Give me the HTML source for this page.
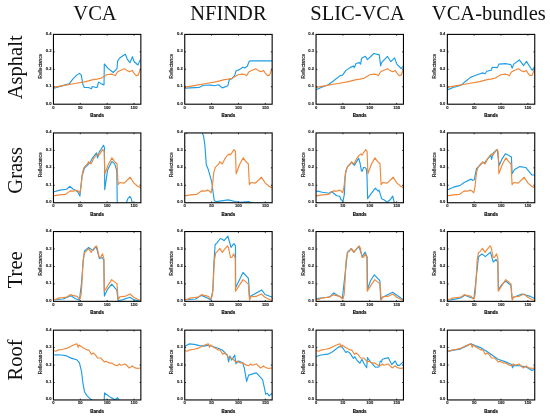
<!DOCTYPE html>
<html><head><meta charset="utf-8"><style>
html,body{margin:0;padding:0;background:#fff;}
body{width:550px;height:417px;overflow:hidden;}
svg{display:block;will-change:transform;}
.ti{font-family:"Liberation Serif",serif;font-size:20.5px;fill:#111;}
.t{font-family:"Liberation Sans",sans-serif;font-size:4.1px;font-weight:bold;fill:#1a1a1a;stroke:#1a1a1a;stroke-width:0.12px;}
.al{font-family:"Liberation Sans",sans-serif;font-size:4.5px;font-weight:bold;fill:#000;stroke:#000;stroke-width:0.15px;}
.ar{font-family:"Liberation Sans",sans-serif;font-size:4.65px;fill:#111;stroke:#111;stroke-width:0.15px;}
</style></head><body>
<svg width="550" height="417" viewBox="0 0 550 417">
<rect width="550" height="417" fill="#fff"/>
<text x="95.0" y="20.2" text-anchor="middle" class="ti">VCA</text>
<text x="228.4" y="20.2" text-anchor="middle" class="ti">NFINDR</text>
<text x="357.6" y="20.2" text-anchor="middle" class="ti">SLIC-VCA</text>
<text x="488.8" y="20.2" text-anchor="middle" class="ti">VCA-bundles</text>
<text transform="translate(21.6 67.3) rotate(-90)" text-anchor="middle" class="ti">Asphalt</text>
<text transform="translate(21.6 170.3) rotate(-90)" text-anchor="middle" class="ti">Grass</text>
<text transform="translate(21.6 269.8) rotate(-90)" text-anchor="middle" class="ti">Tree</text>
<text transform="translate(21.6 360.0) rotate(-90)" text-anchor="middle" class="ti">Roof</text>
<clipPath id="c00"><rect x="53.45" y="34.40" width="87.40" height="69.80"/></clipPath>
<g clip-path="url(#c00)">
<polyline fill="none" stroke="#1e9de6" stroke-width="1.15" stroke-linejoin="round" points="53.20,88.57 54.12,88.22 57.31,87.18 63.80,85.43 69.20,83.86 72.99,78.97 76.72,75.14 79.42,73.39 81.32,75.14 82.72,83.86 84.29,87.52 88.62,87.52 91.32,88.75 92.40,86.48 96.08,87.52 97.00,87.52 98.62,82.11 101.32,83.86 104.03,84.91 104.30,63.97 107.81,68.16 113.22,72.52 117.00,68.68 117.54,61.18 119.71,58.03 122.95,55.77 125.28,54.20 127.28,59.08 129.93,62.75 132.41,56.81 134.25,61.70 137.98,65.01 140.09,60.13 140.79,59.43"/>
<polyline fill="none" stroke="#f0883a" stroke-width="1.15" stroke-linejoin="round" points="53.20,87.35 64.01,85.43 74.83,83.51 85.64,81.59 93.21,79.67 97.00,79.15 101.00,78.28 104.19,76.36 106.62,74.79 111.38,74.09 113.76,74.79 115.38,75.66 117.38,71.99 120.19,70.42 124.57,68.68 126.57,70.42 129.82,71.65 132.20,70.42 133.76,72.87 136.20,75.66 138.20,75.14 139.82,70.77 140.79,69.90"/>
</g>
<path d="M80.30 104.20v-1.3M80.30 34.40v1.3M107.15 104.20v-1.3M107.15 34.40v1.3M134.00 104.20v-1.3M134.00 34.40v1.3M53.45 86.75h1.3M140.85 86.75h-1.3M53.45 69.30h1.3M140.85 69.30h-1.3M53.45 51.85h1.3M140.85 51.85h-1.3" stroke="#000" stroke-width="0.8" fill="none"/>
<rect x="53.45" y="34.40" width="87.40" height="69.80" fill="none" stroke="#000" stroke-width="1.1"/>
<text x="51.45" y="104.70" text-anchor="end" class="t">0.0</text><text x="51.45" y="87.25" text-anchor="end" class="t">0.1</text><text x="51.45" y="69.80" text-anchor="end" class="t">0.2</text><text x="51.45" y="52.35" text-anchor="end" class="t">0.3</text><text x="51.45" y="34.90" text-anchor="end" class="t">0.4</text><text x="53.45" y="108.50" text-anchor="middle" class="t">0</text><text x="80.30" y="108.50" text-anchor="middle" class="t">50</text><text x="107.15" y="108.50" text-anchor="middle" class="t">100</text><text x="134.00" y="108.50" text-anchor="middle" class="t">150</text>
<text x="97.15" y="116.95" text-anchor="middle" class="al">Bands</text>
<text transform="translate(42.15 66.20) rotate(-90)" text-anchor="middle" class="ar">Reflectance</text>
<clipPath id="c10"><rect x="184.75" y="34.40" width="87.40" height="69.80"/></clipPath>
<g clip-path="url(#c10)">
<polyline fill="none" stroke="#1e9de6" stroke-width="1.15" stroke-linejoin="round" points="184.50,88.22 190.12,87.87 199.32,87.35 203.32,85.26 210.51,85.08 214.51,85.78 218.62,84.73 222.19,87.87 223.70,87.35 227.81,85.78 229.32,79.67 231.92,78.62 234.89,75.14 235.92,70.95 239.81,69.38 242.68,67.28 244.79,67.98 247.28,66.24 249.01,61.70 250.30,60.83 272.09,60.83"/>
<polyline fill="none" stroke="#f0883a" stroke-width="1.15" stroke-linejoin="round" points="184.50,87.35 195.31,85.43 206.13,83.51 216.94,81.59 224.51,79.67 228.30,79.15 232.30,78.28 235.49,76.36 237.92,74.79 242.68,74.09 245.06,74.79 246.68,75.66 248.68,71.99 251.49,70.42 255.87,68.68 257.87,70.42 261.12,71.65 263.50,70.42 265.06,72.87 267.50,75.66 269.50,75.14 271.12,70.77 272.09,69.90"/>
</g>
<path d="M211.60 104.20v-1.3M211.60 34.40v1.3M238.45 104.20v-1.3M238.45 34.40v1.3M265.30 104.20v-1.3M265.30 34.40v1.3M184.75 86.75h1.3M272.15 86.75h-1.3M184.75 69.30h1.3M272.15 69.30h-1.3M184.75 51.85h1.3M272.15 51.85h-1.3" stroke="#000" stroke-width="0.8" fill="none"/>
<rect x="184.75" y="34.40" width="87.40" height="69.80" fill="none" stroke="#000" stroke-width="1.1"/>
<text x="182.75" y="104.70" text-anchor="end" class="t">0.0</text><text x="182.75" y="87.25" text-anchor="end" class="t">0.1</text><text x="182.75" y="69.80" text-anchor="end" class="t">0.2</text><text x="182.75" y="52.35" text-anchor="end" class="t">0.3</text><text x="182.75" y="34.90" text-anchor="end" class="t">0.4</text><text x="184.75" y="108.50" text-anchor="middle" class="t">0</text><text x="211.60" y="108.50" text-anchor="middle" class="t">50</text><text x="238.45" y="108.50" text-anchor="middle" class="t">100</text><text x="265.30" y="108.50" text-anchor="middle" class="t">150</text>
<text x="228.45" y="116.95" text-anchor="middle" class="al">Bands</text>
<text transform="translate(173.45 66.20) rotate(-90)" text-anchor="middle" class="ar">Reflectance</text>
<clipPath id="c20"><rect x="316.05" y="34.40" width="87.40" height="69.80"/></clipPath>
<g clip-path="url(#c20)">
<polyline fill="none" stroke="#1e9de6" stroke-width="1.15" stroke-linejoin="round" points="316.20,89.79 321.07,87.52 327.93,85.08 333.02,81.24 339.83,75.83 342.37,75.31 345.78,70.60 350.05,67.63 353.45,65.89 354.32,67.63 356.00,63.44 359.40,62.57 360.59,64.14 361.62,58.21 365.35,56.29 367.40,59.60 373.89,53.50 379.30,54.89 380.65,65.89 381.52,62.57 387.46,56.46 390.87,61.70 394.60,57.86 396.82,64.14 401.09,68.50 403.79,65.89"/>
<polyline fill="none" stroke="#f0883a" stroke-width="1.15" stroke-linejoin="round" points="316.20,87.35 327.01,85.43 337.83,83.51 348.64,81.59 356.21,79.67 360.00,79.15 364.00,78.28 367.19,76.36 369.62,74.79 374.38,74.09 376.76,74.79 378.38,75.66 380.38,71.99 383.19,70.42 387.57,68.68 389.57,70.42 392.82,71.65 395.20,70.42 396.76,72.87 399.20,75.66 401.20,75.14 402.82,70.77 403.79,69.90"/>
</g>
<path d="M342.90 104.20v-1.3M342.90 34.40v1.3M369.75 104.20v-1.3M369.75 34.40v1.3M396.60 104.20v-1.3M396.60 34.40v1.3M316.05 86.75h1.3M403.45 86.75h-1.3M316.05 69.30h1.3M403.45 69.30h-1.3M316.05 51.85h1.3M403.45 51.85h-1.3" stroke="#000" stroke-width="0.8" fill="none"/>
<rect x="316.05" y="34.40" width="87.40" height="69.80" fill="none" stroke="#000" stroke-width="1.1"/>
<text x="314.05" y="104.70" text-anchor="end" class="t">0.0</text><text x="314.05" y="87.25" text-anchor="end" class="t">0.1</text><text x="314.05" y="69.80" text-anchor="end" class="t">0.2</text><text x="314.05" y="52.35" text-anchor="end" class="t">0.3</text><text x="314.05" y="34.90" text-anchor="end" class="t">0.4</text><text x="316.05" y="108.50" text-anchor="middle" class="t">0</text><text x="342.90" y="108.50" text-anchor="middle" class="t">50</text><text x="369.75" y="108.50" text-anchor="middle" class="t">100</text><text x="396.60" y="108.50" text-anchor="middle" class="t">150</text>
<text x="359.75" y="116.95" text-anchor="middle" class="al">Bands</text>
<text transform="translate(304.75 66.20) rotate(-90)" text-anchor="middle" class="ar">Reflectance</text>
<clipPath id="c30"><rect x="447.35" y="34.40" width="87.40" height="69.80"/></clipPath>
<g clip-path="url(#c30)">
<polyline fill="none" stroke="#1e9de6" stroke-width="1.15" stroke-linejoin="round" points="447.20,89.79 448.01,89.62 453.09,87.52 461.26,85.08 464.77,81.94 470.40,77.40 474.51,75.83 478.56,74.26 482.62,72.87 485.16,73.74 486.73,71.30 491.32,70.25 492.29,67.28 497.38,67.63 498.89,64.14 505.70,63.62 510.84,64.66 512.19,68.16 513.71,64.14 519.33,59.95 523.60,65.54 526.47,61.35 532.09,70.25 534.79,66.41"/>
<polyline fill="none" stroke="#f0883a" stroke-width="1.15" stroke-linejoin="round" points="447.20,87.35 458.01,85.43 468.83,83.51 479.64,81.59 487.21,79.67 491.00,79.15 495.00,78.28 498.19,76.36 500.62,74.79 505.38,74.09 507.76,74.79 509.38,75.66 511.38,71.99 514.19,70.42 518.57,68.68 520.57,70.42 523.82,71.65 526.20,70.42 527.76,72.87 530.20,75.66 532.20,75.14 533.82,70.77 534.79,69.90"/>
</g>
<path d="M474.20 104.20v-1.3M474.20 34.40v1.3M501.05 104.20v-1.3M501.05 34.40v1.3M527.90 104.20v-1.3M527.90 34.40v1.3M447.35 86.75h1.3M534.75 86.75h-1.3M447.35 69.30h1.3M534.75 69.30h-1.3M447.35 51.85h1.3M534.75 51.85h-1.3" stroke="#000" stroke-width="0.8" fill="none"/>
<rect x="447.35" y="34.40" width="87.40" height="69.80" fill="none" stroke="#000" stroke-width="1.1"/>
<text x="445.35" y="104.70" text-anchor="end" class="t">0.0</text><text x="445.35" y="87.25" text-anchor="end" class="t">0.1</text><text x="445.35" y="69.80" text-anchor="end" class="t">0.2</text><text x="445.35" y="52.35" text-anchor="end" class="t">0.3</text><text x="445.35" y="34.90" text-anchor="end" class="t">0.4</text><text x="447.35" y="108.50" text-anchor="middle" class="t">0</text><text x="474.20" y="108.50" text-anchor="middle" class="t">50</text><text x="501.05" y="108.50" text-anchor="middle" class="t">100</text><text x="527.90" y="108.50" text-anchor="middle" class="t">150</text>
<text x="491.05" y="116.95" text-anchor="middle" class="al">Bands</text>
<text transform="translate(436.05 66.20) rotate(-90)" text-anchor="middle" class="ar">Reflectance</text>
<clipPath id="c01"><rect x="53.45" y="132.95" width="87.40" height="69.80"/></clipPath>
<g clip-path="url(#c01)">
<polyline fill="none" stroke="#1e9de6" stroke-width="1.15" stroke-linejoin="round" points="53.20,192.06 59.80,190.14 66.61,189.26 69.69,186.30 73.42,189.26 77.69,191.71 79.91,196.07 81.91,176.53 84.51,167.98 90.45,162.04 92.18,158.38 96.51,152.97 97.59,158.03 99.38,151.57 100.78,149.83 103.49,145.29 104.40,147.38 104.73,189.79 107.59,170.07 111.81,161.52 114.62,163.61 116.79,170.59 117.38,211.78 125.60,204.80 127.82,198.69 129.98,196.42 131.33,198.69 132.52,204.80 140.79,211.78"/>
<polyline fill="none" stroke="#f0883a" stroke-width="1.15" stroke-linejoin="round" points="53.20,195.90 59.36,194.85 65.69,194.33 70.23,190.84 73.31,191.18 76.50,190.14 77.75,190.84 79.69,192.75 80.99,187.00 82.51,172.34 84.07,167.45 87.26,164.14 88.51,161.69 91.05,163.96 93.70,158.55 96.13,155.24 97.92,153.84 98.89,155.24 102.67,149.65 104.13,151.40 104.89,173.73 108.30,164.49 111.92,157.85 114.41,161.34 117.00,163.79 118.08,184.73 119.65,182.46 124.19,183.16 130.20,177.22 133.98,183.16 137.77,186.30 140.79,187.87"/>
</g>
<path d="M80.30 202.75v-1.3M80.30 132.95v1.3M107.15 202.75v-1.3M107.15 132.95v1.3M134.00 202.75v-1.3M134.00 132.95v1.3M53.45 185.30h1.3M140.85 185.30h-1.3M53.45 167.85h1.3M140.85 167.85h-1.3M53.45 150.40h1.3M140.85 150.40h-1.3" stroke="#000" stroke-width="0.8" fill="none"/>
<rect x="53.45" y="132.95" width="87.40" height="69.80" fill="none" stroke="#000" stroke-width="1.1"/>
<text x="51.45" y="203.25" text-anchor="end" class="t">0.0</text><text x="51.45" y="185.80" text-anchor="end" class="t">0.1</text><text x="51.45" y="168.35" text-anchor="end" class="t">0.2</text><text x="51.45" y="150.90" text-anchor="end" class="t">0.3</text><text x="51.45" y="133.45" text-anchor="end" class="t">0.4</text><text x="53.45" y="207.05" text-anchor="middle" class="t">0</text><text x="80.30" y="207.05" text-anchor="middle" class="t">50</text><text x="107.15" y="207.05" text-anchor="middle" class="t">100</text><text x="134.00" y="207.05" text-anchor="middle" class="t">150</text>
<text x="97.15" y="215.50" text-anchor="middle" class="al">Bands</text>
<text transform="translate(42.15 164.75) rotate(-90)" text-anchor="middle" class="ar">Reflectance</text>
<clipPath id="c11"><rect x="184.75" y="132.95" width="87.40" height="69.80"/></clipPath>
<g clip-path="url(#c11)">
<polyline fill="none" stroke="#1e9de6" stroke-width="1.15" stroke-linejoin="round" points="184.50,124.53 185.85,131.51 186.66,133.60 187.47,131.51 188.83,124.53 201.59,131.51 203.53,135.87 204.88,145.12 206.29,164.66 208.29,169.55 209.53,173.91 211.81,182.11 213.21,193.28 214.29,200.78 216.40,201.65 228.24,199.91 235.06,201.48 240.19,202.35 248.68,201.48 252.09,203.05 272.09,203.05"/>
<polyline fill="none" stroke="#f0883a" stroke-width="1.15" stroke-linejoin="round" points="184.50,195.90 190.66,194.85 196.99,194.33 201.53,190.84 204.61,191.18 207.80,190.14 209.05,190.84 210.99,192.75 212.29,187.00 213.81,172.34 215.37,167.45 218.56,164.14 219.81,161.69 222.35,163.96 225.00,158.55 227.43,155.24 229.22,153.84 230.19,155.24 233.97,149.65 235.43,151.40 236.19,173.73 239.60,164.49 243.22,157.85 245.71,161.34 248.30,163.79 249.38,184.73 250.95,182.46 255.49,183.16 261.50,177.22 265.28,183.16 269.07,186.30 272.09,187.87"/>
</g>
<path d="M211.60 202.75v-1.3M211.60 132.95v1.3M238.45 202.75v-1.3M238.45 132.95v1.3M265.30 202.75v-1.3M265.30 132.95v1.3M184.75 185.30h1.3M272.15 185.30h-1.3M184.75 167.85h1.3M272.15 167.85h-1.3M184.75 150.40h1.3M272.15 150.40h-1.3" stroke="#000" stroke-width="0.8" fill="none"/>
<rect x="184.75" y="132.95" width="87.40" height="69.80" fill="none" stroke="#000" stroke-width="1.1"/>
<text x="182.75" y="203.25" text-anchor="end" class="t">0.0</text><text x="182.75" y="185.80" text-anchor="end" class="t">0.1</text><text x="182.75" y="168.35" text-anchor="end" class="t">0.2</text><text x="182.75" y="150.90" text-anchor="end" class="t">0.3</text><text x="182.75" y="133.45" text-anchor="end" class="t">0.4</text><text x="184.75" y="207.05" text-anchor="middle" class="t">0</text><text x="211.60" y="207.05" text-anchor="middle" class="t">50</text><text x="238.45" y="207.05" text-anchor="middle" class="t">100</text><text x="265.30" y="207.05" text-anchor="middle" class="t">150</text>
<text x="228.45" y="215.50" text-anchor="middle" class="al">Bands</text>
<text transform="translate(173.45 164.75) rotate(-90)" text-anchor="middle" class="ar">Reflectance</text>
<clipPath id="c21"><rect x="316.05" y="132.95" width="87.40" height="69.80"/></clipPath>
<g clip-path="url(#c21)">
<polyline fill="none" stroke="#1e9de6" stroke-width="1.15" stroke-linejoin="round" points="316.20,191.18 317.55,191.18 322.20,192.23 329.39,193.28 331.50,191.53 336.64,195.72 339.72,196.24 340.75,199.21 343.02,201.31 344.37,194.15 345.07,177.75 346.10,170.42 347.89,166.06 351.51,162.39 354.37,165.36 358.59,158.20 360.10,163.26 361.40,170.94 362.32,171.12 363.51,167.45 364.81,167.45 366.32,168.85 366.97,175.13 367.62,198.69 370.38,194.67 375.30,188.22 378.11,191.18 379.08,190.14 381.62,198.69 384.33,200.08 387.09,202.18 389.90,200.08 392.71,196.07 394.82,204.80 403.79,211.78"/>
<polyline fill="none" stroke="#f0883a" stroke-width="1.15" stroke-linejoin="round" points="316.20,195.90 322.36,194.85 328.69,194.33 333.23,190.84 336.31,191.18 339.50,190.14 340.75,190.84 342.69,192.75 343.99,187.00 345.51,172.34 347.07,167.45 350.26,164.14 351.51,161.69 354.05,163.96 356.70,158.55 359.13,155.24 360.92,153.84 361.89,155.24 365.67,149.65 367.13,151.40 367.89,173.73 371.30,164.49 374.92,157.85 377.41,161.34 380.00,163.79 381.08,184.73 382.65,182.46 387.19,183.16 393.20,177.22 396.98,183.16 400.77,186.30 403.79,187.87"/>
</g>
<path d="M342.90 202.75v-1.3M342.90 132.95v1.3M369.75 202.75v-1.3M369.75 132.95v1.3M396.60 202.75v-1.3M396.60 132.95v1.3M316.05 185.30h1.3M403.45 185.30h-1.3M316.05 167.85h1.3M403.45 167.85h-1.3M316.05 150.40h1.3M403.45 150.40h-1.3" stroke="#000" stroke-width="0.8" fill="none"/>
<rect x="316.05" y="132.95" width="87.40" height="69.80" fill="none" stroke="#000" stroke-width="1.1"/>
<text x="314.05" y="203.25" text-anchor="end" class="t">0.0</text><text x="314.05" y="185.80" text-anchor="end" class="t">0.1</text><text x="314.05" y="168.35" text-anchor="end" class="t">0.2</text><text x="314.05" y="150.90" text-anchor="end" class="t">0.3</text><text x="314.05" y="133.45" text-anchor="end" class="t">0.4</text><text x="316.05" y="207.05" text-anchor="middle" class="t">0</text><text x="342.90" y="207.05" text-anchor="middle" class="t">50</text><text x="369.75" y="207.05" text-anchor="middle" class="t">100</text><text x="396.60" y="207.05" text-anchor="middle" class="t">150</text>
<text x="359.75" y="215.50" text-anchor="middle" class="al">Bands</text>
<text transform="translate(304.75 164.75) rotate(-90)" text-anchor="middle" class="ar">Reflectance</text>
<clipPath id="c31"><rect x="447.35" y="132.95" width="87.40" height="69.80"/></clipPath>
<g clip-path="url(#c31)">
<polyline fill="none" stroke="#1e9de6" stroke-width="1.15" stroke-linejoin="round" points="447.20,189.96 453.36,187.17 459.69,185.60 464.23,182.46 471.10,179.14 472.34,180.37 474.29,179.67 476.51,168.67 478.51,166.58 481.26,163.44 485.05,162.22 487.86,158.55 490.89,155.24 491.59,159.43 492.94,153.49 497.11,149.30 499.22,165.36 501.81,159.43 505.49,153.67 511.44,156.98 512.08,173.73 514.41,169.72 519.71,166.58 525.71,167.45 531.77,174.96 534.79,174.96"/>
<polyline fill="none" stroke="#f0883a" stroke-width="1.15" stroke-linejoin="round" points="447.20,195.90 453.36,194.85 459.69,194.33 464.23,190.84 467.31,191.18 470.50,190.14 471.75,190.84 473.69,192.75 474.99,187.00 476.51,172.34 478.07,167.45 481.26,164.14 482.51,161.69 485.05,163.96 487.70,158.55 490.13,155.24 491.92,153.84 492.89,155.24 496.67,149.65 498.13,151.40 498.89,173.73 502.30,164.49 505.92,157.85 508.41,161.34 511.00,163.79 512.08,184.73 513.65,182.46 518.19,183.16 524.20,177.22 527.98,183.16 531.77,186.30 534.79,187.87"/>
</g>
<path d="M474.20 202.75v-1.3M474.20 132.95v1.3M501.05 202.75v-1.3M501.05 132.95v1.3M527.90 202.75v-1.3M527.90 132.95v1.3M447.35 185.30h1.3M534.75 185.30h-1.3M447.35 167.85h1.3M534.75 167.85h-1.3M447.35 150.40h1.3M534.75 150.40h-1.3" stroke="#000" stroke-width="0.8" fill="none"/>
<rect x="447.35" y="132.95" width="87.40" height="69.80" fill="none" stroke="#000" stroke-width="1.1"/>
<text x="445.35" y="203.25" text-anchor="end" class="t">0.0</text><text x="445.35" y="185.80" text-anchor="end" class="t">0.1</text><text x="445.35" y="168.35" text-anchor="end" class="t">0.2</text><text x="445.35" y="150.90" text-anchor="end" class="t">0.3</text><text x="445.35" y="133.45" text-anchor="end" class="t">0.4</text><text x="447.35" y="207.05" text-anchor="middle" class="t">0</text><text x="474.20" y="207.05" text-anchor="middle" class="t">50</text><text x="501.05" y="207.05" text-anchor="middle" class="t">100</text><text x="527.90" y="207.05" text-anchor="middle" class="t">150</text>
<text x="491.05" y="215.50" text-anchor="middle" class="al">Bands</text>
<text transform="translate(436.05 164.75) rotate(-90)" text-anchor="middle" class="ar">Reflectance</text>
<clipPath id="c02"><rect x="53.45" y="231.55" width="87.40" height="69.80"/></clipPath>
<g clip-path="url(#c02)">
<polyline fill="none" stroke="#1e9de6" stroke-width="1.15" stroke-linejoin="round" points="53.20,299.73 63.20,299.03 70.88,295.72 75.15,298.51 79.37,300.25 81.59,282.45 83.21,261.17 84.51,251.04 88.62,247.38 92.78,250.52 96.19,246.51 99.43,258.55 102.08,257.50 103.81,260.29 104.40,296.07 107.49,289.26 111.70,284.20 116.84,290.13 118.03,300.78 122.41,299.90 129.82,297.29 134.31,299.90 140.79,301.13"/>
<polyline fill="none" stroke="#f0883a" stroke-width="1.15" stroke-linejoin="round" points="53.20,299.03 56.17,299.56 58.07,298.16 63.20,297.46 66.72,297.11 70.18,294.67 72.50,295.37 77.15,296.41 78.88,298.68 80.02,299.03 81.21,293.97 81.86,284.20 83.10,260.29 84.51,252.62 85.91,251.74 88.45,248.43 91.10,252.44 93.10,249.30 96.19,245.81 97.32,248.08 99.16,257.50 100.67,257.15 102.46,253.84 103.92,258.37 104.19,291.18 105.59,289.09 111.70,279.66 117.00,283.85 118.19,300.08 119.81,296.76 124.68,296.41 129.98,293.97 133.71,297.29 138.58,299.73 140.79,300.25"/>
</g>
<path d="M80.30 301.35v-1.3M80.30 231.55v1.3M107.15 301.35v-1.3M107.15 231.55v1.3M134.00 301.35v-1.3M134.00 231.55v1.3M53.45 283.90h1.3M140.85 283.90h-1.3M53.45 266.45h1.3M140.85 266.45h-1.3M53.45 249.00h1.3M140.85 249.00h-1.3" stroke="#000" stroke-width="0.8" fill="none"/>
<rect x="53.45" y="231.55" width="87.40" height="69.80" fill="none" stroke="#000" stroke-width="1.1"/>
<text x="51.45" y="301.85" text-anchor="end" class="t">0.0</text><text x="51.45" y="284.40" text-anchor="end" class="t">0.1</text><text x="51.45" y="266.95" text-anchor="end" class="t">0.2</text><text x="51.45" y="249.50" text-anchor="end" class="t">0.3</text><text x="51.45" y="232.05" text-anchor="end" class="t">0.4</text><text x="53.45" y="305.65" text-anchor="middle" class="t">0</text><text x="80.30" y="305.65" text-anchor="middle" class="t">50</text><text x="107.15" y="305.65" text-anchor="middle" class="t">100</text><text x="134.00" y="305.65" text-anchor="middle" class="t">150</text>
<text x="97.15" y="314.10" text-anchor="middle" class="al">Bands</text>
<text transform="translate(42.15 263.35) rotate(-90)" text-anchor="middle" class="ar">Reflectance</text>
<clipPath id="c12"><rect x="184.75" y="231.55" width="87.40" height="69.80"/></clipPath>
<g clip-path="url(#c12)">
<polyline fill="none" stroke="#1e9de6" stroke-width="1.15" stroke-linejoin="round" points="184.50,299.38 186.12,299.73 195.58,299.03 201.48,295.37 207.32,297.99 210.78,299.90 212.89,290.48 213.70,266.75 215.10,244.76 217.21,242.67 220.29,238.48 222.02,239.18 224.08,240.57 227.92,236.04 229.32,241.27 231.00,247.38 233.81,243.54 235.49,245.81 235.65,287.86 243.00,272.51 248.30,278.09 248.84,283.33 249.49,296.76 261.71,289.96 265.01,294.50 271.12,296.76 272.09,296.94"/>
<polyline fill="none" stroke="#f0883a" stroke-width="1.15" stroke-linejoin="round" points="184.50,299.03 187.47,299.56 189.37,298.16 194.50,297.46 198.02,297.11 201.48,294.67 203.80,295.37 208.45,296.41 210.18,298.68 211.32,299.03 212.51,293.97 213.16,284.20 214.40,260.29 215.81,252.62 217.21,251.74 219.75,248.43 222.40,252.44 224.40,249.30 227.49,245.81 228.62,248.08 230.46,257.50 231.97,257.15 233.76,253.84 235.22,258.37 235.49,291.18 236.89,289.09 243.00,279.66 248.30,283.85 249.49,300.08 251.11,296.76 255.98,296.41 261.28,293.97 265.01,297.29 269.88,299.73 272.09,300.25"/>
</g>
<path d="M211.60 301.35v-1.3M211.60 231.55v1.3M238.45 301.35v-1.3M238.45 231.55v1.3M265.30 301.35v-1.3M265.30 231.55v1.3M184.75 283.90h1.3M272.15 283.90h-1.3M184.75 266.45h1.3M272.15 266.45h-1.3M184.75 249.00h1.3M272.15 249.00h-1.3" stroke="#000" stroke-width="0.8" fill="none"/>
<rect x="184.75" y="231.55" width="87.40" height="69.80" fill="none" stroke="#000" stroke-width="1.1"/>
<text x="182.75" y="301.85" text-anchor="end" class="t">0.0</text><text x="182.75" y="284.40" text-anchor="end" class="t">0.1</text><text x="182.75" y="266.95" text-anchor="end" class="t">0.2</text><text x="182.75" y="249.50" text-anchor="end" class="t">0.3</text><text x="182.75" y="232.05" text-anchor="end" class="t">0.4</text><text x="184.75" y="305.65" text-anchor="middle" class="t">0</text><text x="211.60" y="305.65" text-anchor="middle" class="t">50</text><text x="238.45" y="305.65" text-anchor="middle" class="t">100</text><text x="265.30" y="305.65" text-anchor="middle" class="t">150</text>
<text x="228.45" y="314.10" text-anchor="middle" class="al">Bands</text>
<text transform="translate(173.45 263.35) rotate(-90)" text-anchor="middle" class="ar">Reflectance</text>
<clipPath id="c22"><rect x="316.05" y="231.55" width="87.40" height="69.80"/></clipPath>
<g clip-path="url(#c22)">
<polyline fill="none" stroke="#1e9de6" stroke-width="1.15" stroke-linejoin="round" points="316.20,298.51 326.20,297.46 329.61,296.94 333.88,292.92 338.10,295.72 342.37,297.99 344.91,275.65 347.51,252.09 350.91,248.95 353.78,252.09 358.92,246.33 362.27,256.80 365.03,252.09 367.08,256.80 367.57,289.26 370.49,280.71 374.38,274.78 379.84,280.71 380.65,299.38 383.25,296.94 392.60,292.23 399.41,296.94 403.79,300.25"/>
<polyline fill="none" stroke="#f0883a" stroke-width="1.15" stroke-linejoin="round" points="316.20,299.03 319.17,299.56 321.07,298.16 326.20,297.46 329.72,297.11 333.18,294.67 335.50,295.37 340.15,296.41 341.88,298.68 343.02,299.03 344.21,293.97 344.86,284.20 346.10,260.29 347.51,252.62 348.91,251.74 351.45,248.43 354.10,252.44 356.10,249.30 359.19,245.81 360.32,248.08 362.16,257.50 363.67,257.15 365.46,253.84 366.92,258.37 367.19,291.18 368.59,289.09 374.70,279.66 380.00,283.85 381.19,300.08 382.81,296.76 387.68,296.41 392.98,293.97 396.71,297.29 401.58,299.73 403.79,300.25"/>
</g>
<path d="M342.90 301.35v-1.3M342.90 231.55v1.3M369.75 301.35v-1.3M369.75 231.55v1.3M396.60 301.35v-1.3M396.60 231.55v1.3M316.05 283.90h1.3M403.45 283.90h-1.3M316.05 266.45h1.3M403.45 266.45h-1.3M316.05 249.00h1.3M403.45 249.00h-1.3" stroke="#000" stroke-width="0.8" fill="none"/>
<rect x="316.05" y="231.55" width="87.40" height="69.80" fill="none" stroke="#000" stroke-width="1.1"/>
<text x="314.05" y="301.85" text-anchor="end" class="t">0.0</text><text x="314.05" y="284.40" text-anchor="end" class="t">0.1</text><text x="314.05" y="266.95" text-anchor="end" class="t">0.2</text><text x="314.05" y="249.50" text-anchor="end" class="t">0.3</text><text x="314.05" y="232.05" text-anchor="end" class="t">0.4</text><text x="316.05" y="305.65" text-anchor="middle" class="t">0</text><text x="342.90" y="305.65" text-anchor="middle" class="t">50</text><text x="369.75" y="305.65" text-anchor="middle" class="t">100</text><text x="396.60" y="305.65" text-anchor="middle" class="t">150</text>
<text x="359.75" y="314.10" text-anchor="middle" class="al">Bands</text>
<text transform="translate(304.75 263.35) rotate(-90)" text-anchor="middle" class="ar">Reflectance</text>
<clipPath id="c32"><rect x="447.35" y="231.55" width="87.40" height="69.80"/></clipPath>
<g clip-path="url(#c32)">
<polyline fill="none" stroke="#1e9de6" stroke-width="1.15" stroke-linejoin="round" points="447.20,300.25 453.80,299.38 460.61,297.99 464.88,295.19 469.10,296.94 473.91,298.51 475.91,280.71 478.51,256.80 481.91,253.84 485.32,256.63 490.40,252.09 493.27,262.04 496.03,259.42 497.70,262.04 498.57,290.13 501.49,284.90 505.70,281.06 510.84,285.42 512.03,297.99 521.87,293.97 530.41,296.41 534.79,298.51"/>
<polyline fill="none" stroke="#f0883a" stroke-width="1.15" stroke-linejoin="round" points="447.20,299.03 450.17,299.56 452.07,298.16 457.20,297.46 460.72,297.11 464.18,294.67 466.50,295.37 471.15,296.41 472.88,298.68 474.02,299.03 475.21,293.97 475.86,284.20 477.10,260.29 478.51,252.62 479.91,251.74 482.45,248.43 485.10,252.44 487.10,249.30 490.19,245.81 491.32,248.08 493.16,257.50 494.67,257.15 496.46,253.84 497.92,258.37 498.19,291.18 499.59,289.09 505.70,279.66 511.00,283.85 512.19,300.08 513.81,296.76 518.68,296.41 523.98,293.97 527.71,297.29 532.58,299.73 534.79,300.25"/>
</g>
<path d="M474.20 301.35v-1.3M474.20 231.55v1.3M501.05 301.35v-1.3M501.05 231.55v1.3M527.90 301.35v-1.3M527.90 231.55v1.3M447.35 283.90h1.3M534.75 283.90h-1.3M447.35 266.45h1.3M534.75 266.45h-1.3M447.35 249.00h1.3M534.75 249.00h-1.3" stroke="#000" stroke-width="0.8" fill="none"/>
<rect x="447.35" y="231.55" width="87.40" height="69.80" fill="none" stroke="#000" stroke-width="1.1"/>
<text x="445.35" y="301.85" text-anchor="end" class="t">0.0</text><text x="445.35" y="284.40" text-anchor="end" class="t">0.1</text><text x="445.35" y="266.95" text-anchor="end" class="t">0.2</text><text x="445.35" y="249.50" text-anchor="end" class="t">0.3</text><text x="445.35" y="232.05" text-anchor="end" class="t">0.4</text><text x="447.35" y="305.65" text-anchor="middle" class="t">0</text><text x="474.20" y="305.65" text-anchor="middle" class="t">50</text><text x="501.05" y="305.65" text-anchor="middle" class="t">100</text><text x="527.90" y="305.65" text-anchor="middle" class="t">150</text>
<text x="491.05" y="314.10" text-anchor="middle" class="al">Bands</text>
<text transform="translate(436.05 263.35) rotate(-90)" text-anchor="middle" class="ar">Reflectance</text>
<clipPath id="c03"><rect x="53.45" y="330.15" width="87.40" height="69.80"/></clipPath>
<g clip-path="url(#c03)">
<polyline fill="none" stroke="#1e9de6" stroke-width="1.15" stroke-linejoin="round" points="53.20,355.05 56.44,354.71 61.53,355.05 66.61,355.93 71.75,358.37 76.83,359.77 79.37,362.73 81.59,371.98 82.78,382.28 84.51,391.70 87.05,395.89 91.32,399.73 96.46,402.00 104.08,401.12 104.57,392.92 110.89,397.63 115.11,399.73 117.65,397.63 119.71,402.00 140.79,408.98"/>
<polyline fill="none" stroke="#f0883a" stroke-width="1.15" stroke-linejoin="round" points="53.20,350.52 55.80,351.22 57.80,350.17 62.61,349.30 66.61,348.42 69.80,346.85 72.99,345.28 76.83,343.71 78.23,347.38 78.99,344.93 83.43,348.07 84.56,348.42 86.13,349.64 88.99,350.17 91.37,354.18 93.00,352.96 95.43,354.88 97.54,358.02 100.89,358.02 104.19,361.86 105.92,361.16 109.22,362.91 111.70,363.08 115.11,365.18 117.60,365.70 119.22,363.95 120.90,365.18 125.11,363.95 129.28,367.97 132.20,365.87 134.31,367.62 136.79,368.32 139.28,368.14 140.79,367.97"/>
</g>
<path d="M80.30 399.95v-1.3M80.30 330.15v1.3M107.15 399.95v-1.3M107.15 330.15v1.3M134.00 399.95v-1.3M134.00 330.15v1.3M53.45 382.50h1.3M140.85 382.50h-1.3M53.45 365.05h1.3M140.85 365.05h-1.3M53.45 347.60h1.3M140.85 347.60h-1.3" stroke="#000" stroke-width="0.8" fill="none"/>
<rect x="53.45" y="330.15" width="87.40" height="69.80" fill="none" stroke="#000" stroke-width="1.1"/>
<text x="51.45" y="400.45" text-anchor="end" class="t">0.0</text><text x="51.45" y="383.00" text-anchor="end" class="t">0.1</text><text x="51.45" y="365.55" text-anchor="end" class="t">0.2</text><text x="51.45" y="348.10" text-anchor="end" class="t">0.3</text><text x="51.45" y="330.65" text-anchor="end" class="t">0.4</text><text x="53.45" y="404.25" text-anchor="middle" class="t">0</text><text x="80.30" y="404.25" text-anchor="middle" class="t">50</text><text x="107.15" y="404.25" text-anchor="middle" class="t">100</text><text x="134.00" y="404.25" text-anchor="middle" class="t">150</text>
<text x="97.15" y="412.70" text-anchor="middle" class="al">Bands</text>
<text transform="translate(42.15 361.95) rotate(-90)" text-anchor="middle" class="ar">Reflectance</text>
<clipPath id="c13"><rect x="184.75" y="330.15" width="87.40" height="69.80"/></clipPath>
<g clip-path="url(#c13)">
<polyline fill="none" stroke="#1e9de6" stroke-width="1.15" stroke-linejoin="round" points="184.50,346.50 189.10,343.89 194.23,344.41 199.32,345.63 204.40,346.16 207.80,345.11 212.94,346.50 218.02,348.25 222.29,349.99 227.38,355.05 228.57,361.86 229.92,355.93 231.65,360.12 234.73,355.05 235.92,363.61 238.46,360.99 242.73,362.73 244.41,368.67 246.63,381.40 248.68,375.12 256.36,372.85 262.63,379.66 265.71,394.14 267.39,393.27 269.12,395.89 272.09,393.27"/>
<polyline fill="none" stroke="#f0883a" stroke-width="1.15" stroke-linejoin="round" points="184.50,350.52 187.10,351.22 189.10,350.17 193.91,349.30 197.91,348.42 201.10,346.85 204.29,345.28 208.13,343.71 209.53,347.38 210.29,344.93 214.73,348.07 215.86,348.42 217.43,349.64 220.29,350.17 222.67,354.18 224.30,352.96 226.73,354.88 228.84,358.02 232.19,358.02 235.49,361.86 237.22,361.16 240.52,362.91 243.00,363.08 246.41,365.18 248.90,365.70 250.52,363.95 252.20,365.18 256.41,363.95 260.58,367.97 263.50,365.87 265.61,367.62 268.09,368.32 270.58,368.14 272.09,367.97"/>
</g>
<path d="M211.60 399.95v-1.3M211.60 330.15v1.3M238.45 399.95v-1.3M238.45 330.15v1.3M265.30 399.95v-1.3M265.30 330.15v1.3M184.75 382.50h1.3M272.15 382.50h-1.3M184.75 365.05h1.3M272.15 365.05h-1.3M184.75 347.60h1.3M272.15 347.60h-1.3" stroke="#000" stroke-width="0.8" fill="none"/>
<rect x="184.75" y="330.15" width="87.40" height="69.80" fill="none" stroke="#000" stroke-width="1.1"/>
<text x="182.75" y="400.45" text-anchor="end" class="t">0.0</text><text x="182.75" y="383.00" text-anchor="end" class="t">0.1</text><text x="182.75" y="365.55" text-anchor="end" class="t">0.2</text><text x="182.75" y="348.10" text-anchor="end" class="t">0.3</text><text x="182.75" y="330.65" text-anchor="end" class="t">0.4</text><text x="184.75" y="404.25" text-anchor="middle" class="t">0</text><text x="211.60" y="404.25" text-anchor="middle" class="t">50</text><text x="238.45" y="404.25" text-anchor="middle" class="t">100</text><text x="265.30" y="404.25" text-anchor="middle" class="t">150</text>
<text x="228.45" y="412.70" text-anchor="middle" class="al">Bands</text>
<text transform="translate(173.45 361.95) rotate(-90)" text-anchor="middle" class="ar">Reflectance</text>
<clipPath id="c23"><rect x="316.05" y="330.15" width="87.40" height="69.80"/></clipPath>
<g clip-path="url(#c23)">
<polyline fill="none" stroke="#1e9de6" stroke-width="1.15" stroke-linejoin="round" points="316.20,356.45 321.07,355.05 327.93,354.18 333.02,351.56 338.10,347.38 341.50,346.16 344.10,349.99 345.78,352.44 347.51,351.39 350.05,353.31 353.45,358.37 354.81,356.80 356.86,360.12 359.89,363.26 361.94,359.24 364.48,364.48 366.70,367.79 367.40,357.67 370.49,361.86 375.57,367.27 378.98,366.92 380.33,360.99 381.52,361.86 382.38,359.24 388.33,357.67 391.74,364.48 395.14,360.99 397.36,365.35 399.58,365.35 403.20,361.86 403.79,361.86"/>
<polyline fill="none" stroke="#f0883a" stroke-width="1.15" stroke-linejoin="round" points="316.20,350.52 318.80,351.22 320.80,350.17 325.61,349.30 329.61,348.42 332.80,346.85 335.99,345.28 339.83,343.71 341.23,347.38 341.99,344.93 346.43,348.07 347.56,348.42 349.13,349.64 351.99,350.17 354.37,354.18 356.00,352.96 358.43,354.88 360.54,358.02 363.89,358.02 367.19,361.86 368.92,361.16 372.22,362.91 374.70,363.08 378.11,365.18 380.60,365.70 382.22,363.95 383.90,365.18 388.11,363.95 392.28,367.97 395.20,365.87 397.30,367.62 399.79,368.32 402.28,368.14 403.79,367.97"/>
</g>
<path d="M342.90 399.95v-1.3M342.90 330.15v1.3M369.75 399.95v-1.3M369.75 330.15v1.3M396.60 399.95v-1.3M396.60 330.15v1.3M316.05 382.50h1.3M403.45 382.50h-1.3M316.05 365.05h1.3M403.45 365.05h-1.3M316.05 347.60h1.3M403.45 347.60h-1.3" stroke="#000" stroke-width="0.8" fill="none"/>
<rect x="316.05" y="330.15" width="87.40" height="69.80" fill="none" stroke="#000" stroke-width="1.1"/>
<text x="314.05" y="400.45" text-anchor="end" class="t">0.0</text><text x="314.05" y="383.00" text-anchor="end" class="t">0.1</text><text x="314.05" y="365.55" text-anchor="end" class="t">0.2</text><text x="314.05" y="348.10" text-anchor="end" class="t">0.3</text><text x="314.05" y="330.65" text-anchor="end" class="t">0.4</text><text x="316.05" y="404.25" text-anchor="middle" class="t">0</text><text x="342.90" y="404.25" text-anchor="middle" class="t">50</text><text x="369.75" y="404.25" text-anchor="middle" class="t">100</text><text x="396.60" y="404.25" text-anchor="middle" class="t">150</text>
<text x="359.75" y="412.70" text-anchor="middle" class="al">Bands</text>
<text transform="translate(304.75 361.95) rotate(-90)" text-anchor="middle" class="ar">Reflectance</text>
<clipPath id="c33"><rect x="447.35" y="330.15" width="87.40" height="69.80"/></clipPath>
<g clip-path="url(#c33)">
<polyline fill="none" stroke="#1e9de6" stroke-width="1.15" stroke-linejoin="round" points="447.20,351.56 452.07,350.34 459.74,349.12 470.83,343.89 475.10,345.63 481.05,347.90 487.00,351.56 491.59,354.71 498.08,359.24 505.70,361.86 511.65,364.48 512.52,367.79 513.71,365.35 519.33,365.70 526.14,366.92 532.09,370.41 534.79,369.01"/>
<polyline fill="none" stroke="#f0883a" stroke-width="1.15" stroke-linejoin="round" points="447.20,350.52 449.80,351.22 451.80,350.17 456.61,349.30 460.61,348.42 463.80,346.85 466.99,345.28 470.83,343.71 472.23,347.38 472.99,344.93 477.43,348.07 478.56,348.42 480.13,349.64 482.99,350.17 485.37,354.18 487.00,352.96 489.43,354.88 491.54,358.02 494.89,358.02 498.19,361.86 499.92,361.16 503.22,362.91 505.70,363.08 509.11,365.18 511.60,365.70 513.22,363.95 514.90,365.18 519.11,363.95 523.28,367.97 526.20,365.87 528.30,367.62 530.79,368.32 533.28,368.14 534.79,367.97"/>
</g>
<path d="M474.20 399.95v-1.3M474.20 330.15v1.3M501.05 399.95v-1.3M501.05 330.15v1.3M527.90 399.95v-1.3M527.90 330.15v1.3M447.35 382.50h1.3M534.75 382.50h-1.3M447.35 365.05h1.3M534.75 365.05h-1.3M447.35 347.60h1.3M534.75 347.60h-1.3" stroke="#000" stroke-width="0.8" fill="none"/>
<rect x="447.35" y="330.15" width="87.40" height="69.80" fill="none" stroke="#000" stroke-width="1.1"/>
<text x="445.35" y="400.45" text-anchor="end" class="t">0.0</text><text x="445.35" y="383.00" text-anchor="end" class="t">0.1</text><text x="445.35" y="365.55" text-anchor="end" class="t">0.2</text><text x="445.35" y="348.10" text-anchor="end" class="t">0.3</text><text x="445.35" y="330.65" text-anchor="end" class="t">0.4</text><text x="447.35" y="404.25" text-anchor="middle" class="t">0</text><text x="474.20" y="404.25" text-anchor="middle" class="t">50</text><text x="501.05" y="404.25" text-anchor="middle" class="t">100</text><text x="527.90" y="404.25" text-anchor="middle" class="t">150</text>
<text x="491.05" y="412.70" text-anchor="middle" class="al">Bands</text>
<text transform="translate(436.05 361.95) rotate(-90)" text-anchor="middle" class="ar">Reflectance</text>
</svg></body></html>
